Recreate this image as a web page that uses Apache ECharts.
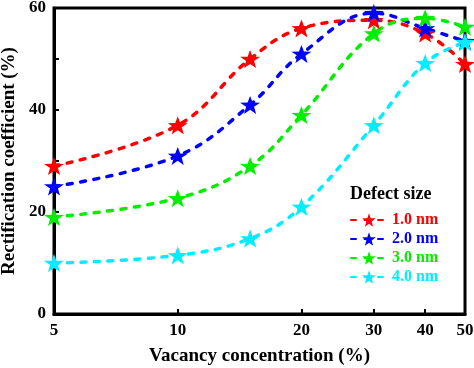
<!DOCTYPE html>
<html><head><meta charset="utf-8">
<script src="https://cdn.jsdelivr.net/npm/echarts@6/dist/echarts.min.js"></script>
<style>html,body{margin:0;padding:0;background:#fff}#c{width:474px;height:368px}</style>
</head><body><div id="c"></div>
<script>
const concentrations = [5, 10, 15, 20, 30, 40, 50];
const xTicks = [5, 10, 20, 30, 40, 50];
const seriesNames = ['1.0 nm', '2.0 nm', '3.0 nm', '4.0 nm'];
const colors = ['#ff0000', '#0000ff', '#00ee00', '#00eeff'];
const red = [29, 37, 50, 56, 57.6, 55, 49];
const blue = [25, 31, 41, 51, 59, 56, 53.5];
const green = [19, 22.7, 29, 39, 55, 58, 56.3];
const cyan = [10, 11.5, 14.8, 21, 37, 49.2, 53.3];
const values = [red, blue, green, cyan];

const FONT = "'Liberation Serif','Times New Roman',serif";
const STAR = 'path://M50,0 L62,34 L98,35 L69,56 L79,92 L50,71 L21,92 L31,56 L2,35 L38,34 Z';

const chart = echarts.init(document.getElementById('c'));
chart.setOption({
  animation: false,
  backgroundColor: '#fff',
  title: {
    text: 'Defect size', left: 345, top: 180,
    textStyle: {fontFamily: FONT, fontWeight: 'bold', fontSize: 18, color: '#000'}
  },
  legend: {
    orient: 'vertical', left: 345, top: 207, itemGap: 3,
    itemWidth: 36, itemHeight: 17,
    data: seriesNames.map((n, i) => ({name: n, textStyle: {color: colors[i]}})),
    textStyle: {fontFamily: FONT, fontWeight: 'bold', fontSize: 16}
  },
  grid: {left: 54, right: 9, top: 8, bottom: 54, show: true, borderColor: '#000', borderWidth: 3,
    containLabel: false, outerBoundsMode: 'none'},
  xAxis: {
    type: 'log', logBase: 10, min: 5, max: 50,
    name: 'Vacancy concentration (%)', nameLocation: 'middle', nameGap: 33,
    nameTextStyle: {fontFamily: FONT, fontWeight: 'bold', fontSize: 19, color: '#000'},
    axisLine: {lineStyle: {color: '#000', width: 3}},
    axisTick: {inside: true, length: 5, lineStyle: {width: 2}, customValues: xTicks},
    axisLabel: {customValues: xTicks, margin: 8, fontFamily: FONT, fontWeight: 'bold', fontSize: 17, color: '#000'},
    minorTick: {show: false},
    splitLine: {show: false}
  },
  yAxis: {
    type: 'value', min: 0, max: 60, interval: 10,
    name: 'Rectification coefficient (%)', nameLocation: 'middle', nameGap: 28,
    nameTextStyle: {fontFamily: FONT, fontWeight: 'bold', fontSize: 19, color: '#000'},
    axisLine: {show: true, lineStyle: {color: '#000', width: 3}},
    axisTick: {inside: true, length: 5, lineStyle: {width: 2}},
    axisLabel: {margin: 8, fontFamily: FONT, fontWeight: 'bold', fontSize: 17, color: '#000',
      formatter: v => (v % 20 === 0 ? String(v) : '')},
    splitLine: {show: false}
  },
  series: seriesNames.map((n, i) => ({
    name: n, type: 'line', smooth: 0.4,
    data: concentrations.map((x, j) => [x, values[i][j]]),
    symbol: STAR, symbolSize: [20, 18],
    itemStyle: {color: colors[i]},
    lineStyle: {color: colors[i], width: 3.5, type: [5, 8.5], cap: 'round'}
  }))
});
</script></body></html>
